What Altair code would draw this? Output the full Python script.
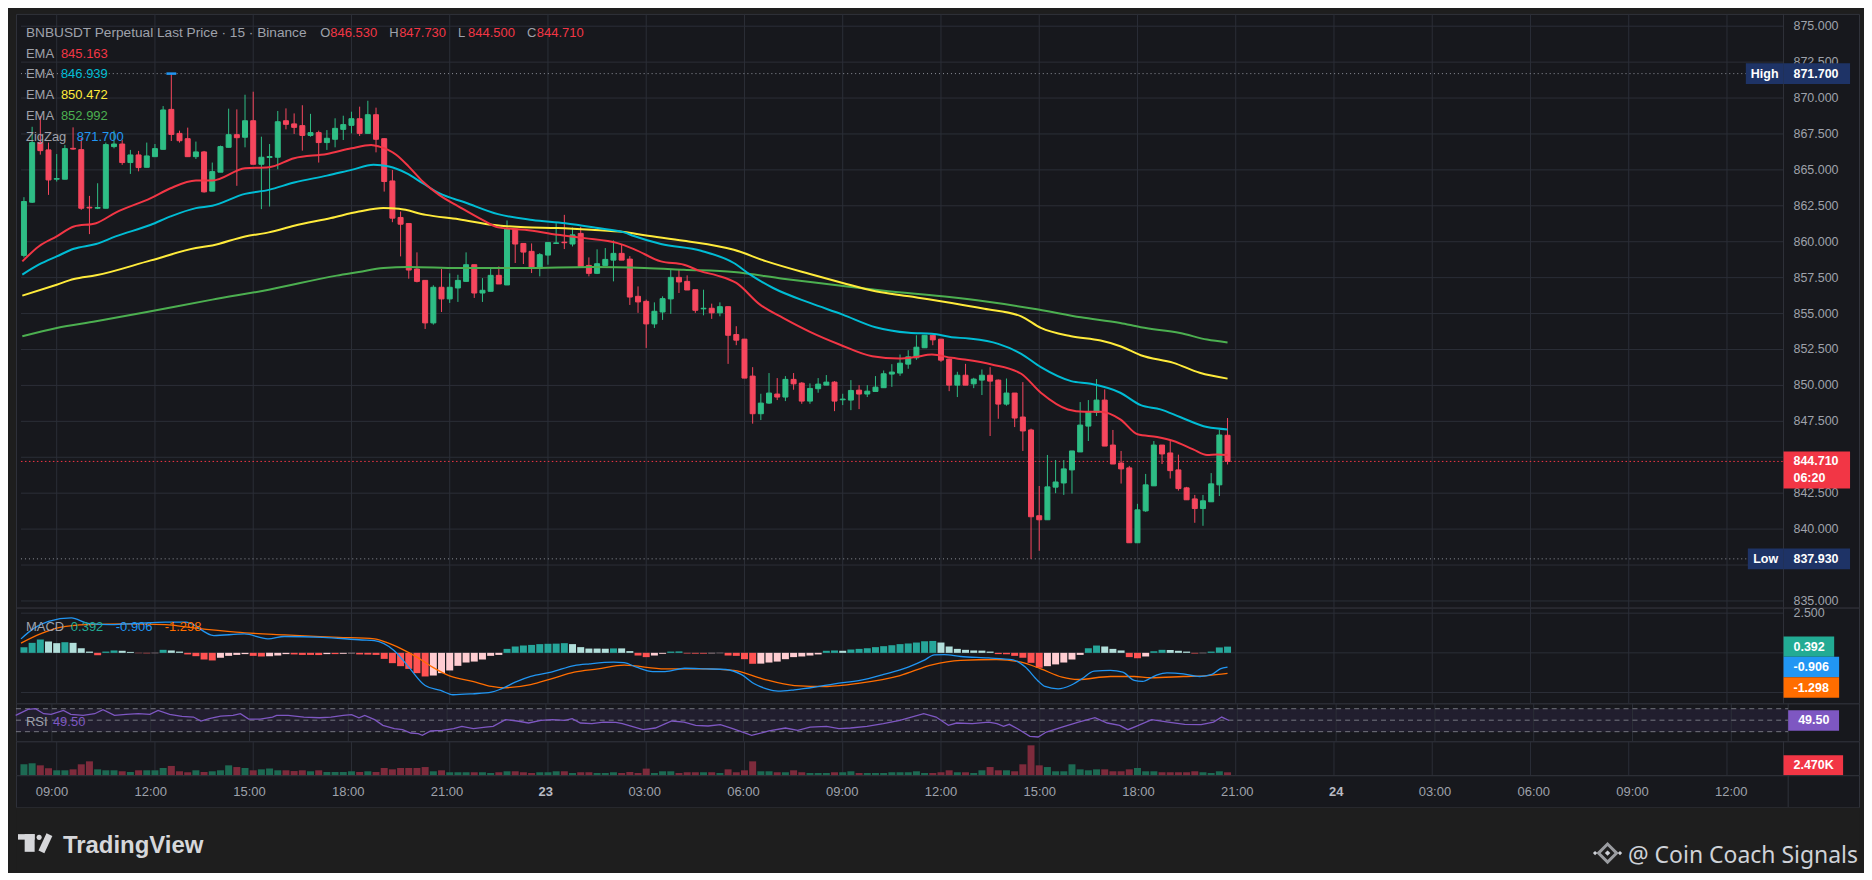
import altair as alt
import pandas as pd

# ============ values (BNBUSDT perp, 15m, 22-23 Aug) ============
candle_open = [859.05, 862.75, 866.90, 866.39, 864.35, 864.35, 866.50, 866.41, 862.40, 862.33,
 862.33, 866.62, 866.80, 865.51, 866.04, 865.18, 865.92, 866.43, 869.21, 867.54,
 867.17, 865.92, 866.25, 863.52, 864.84, 866.57, 867.45, 867.27, 868.42, 865.39,
 865.86, 865.88, 868.42, 868.20, 868.08, 867.40, 867.59, 866.90, 867.13, 867.82,
 868.10, 868.56, 867.54, 868.84, 867.17, 864.23, 861.69, 861.27, 858.10, 857.31,
 854.35, 856.83, 856.02, 856.78, 857.24, 858.40, 856.43, 856.55, 857.66, 856.99,
 860.88, 859.88, 859.33, 858.15, 859.07, 859.88, 859.97, 859.84, 860.58, 858.35,
 857.80, 858.35, 858.72, 859.19, 858.79, 856.20, 855.85, 854.28, 855.11, 856.02,
 857.52, 857.24, 856.66, 855.33, 855.37, 855.05, 855.48, 853.54, 853.22, 850.65,
 848.03, 848.77, 849.40, 849.19, 850.42, 850.16, 848.91, 849.77, 850.02, 850.23,
 849.00, 848.98, 849.67, 849.40, 849.58, 849.84, 850.79, 850.86, 851.48, 851.92,
 852.62, 853.49, 853.22, 851.83, 850.02, 850.71, 850.11, 850.37, 850.71, 850.37,
 848.70, 849.47, 847.80, 846.90, 840.93, 840.65, 842.92, 843.21, 844.12, 845.37,
 847.17, 848.13, 848.98, 845.85, 844.60, 844.26, 839.05, 841.27, 843.01, 845.85,
 845.30, 844.12, 842.87, 842.10, 841.43, 841.90, 843.08, 846.53]
candle_high = [863.10, 868.00, 868.75, 866.90, 866.10, 866.74, 867.96, 867.22, 863.19, 864.07,
 866.90, 867.73, 867.08, 866.39, 866.32, 866.90, 866.80, 869.44, 871.70, 867.73,
 867.94, 866.97, 866.32, 865.51, 866.69, 869.26, 869.21, 870.23, 870.44, 867.31,
 866.80, 869.10, 869.28, 868.93, 869.50, 868.90, 867.73, 867.77, 868.59, 868.77,
 869.05, 869.40, 869.81, 869.33, 867.20, 864.99, 862.10, 861.27, 859.26, 857.31,
 856.97, 858.10, 857.80, 857.70, 859.26, 858.40, 857.47, 858.22, 858.28, 861.48,
 860.88, 859.88, 859.88, 859.21, 859.95, 861.29, 861.87, 860.99, 861.04, 858.91,
 859.47, 859.56, 860.09, 859.79, 859.00, 856.89, 855.97, 855.78, 856.20, 858.05,
 858.10, 857.66, 856.66, 856.66, 855.69, 855.78, 855.48, 854.12, 853.22, 851.27,
 849.42, 850.86, 850.51, 850.65, 850.86, 850.23, 850.14, 850.51, 850.72, 850.30,
 849.42, 850.37, 850.02, 850.02, 850.65, 851.04, 851.48, 852.15, 852.45, 853.49,
 853.49, 853.49, 853.22, 851.87, 850.95, 851.50, 850.53, 851.11, 851.27, 850.41,
 850.48, 849.47, 850.23, 846.99, 843.00, 845.16, 844.81, 844.81, 845.44, 848.84,
 848.98, 850.44, 849.72, 846.90, 845.44, 844.40, 841.76, 843.84, 846.13, 845.85,
 846.13, 845.18, 842.94, 842.38, 842.38, 843.90, 846.90, 847.73]
candle_low = [858.90, 862.70, 866.06, 863.26, 864.19, 864.35, 866.40, 862.22, 860.53, 862.27,
 862.33, 866.50, 865.35, 864.72, 864.90, 865.18, 865.92, 866.43, 867.01, 866.90,
 865.92, 865.76, 863.42, 863.52, 864.84, 866.57, 863.89, 866.57, 865.39, 862.27,
 862.45, 865.04, 867.82, 867.50, 866.34, 867.31, 865.51, 866.39, 866.57, 867.08,
 867.54, 867.36, 867.54, 866.22, 863.49, 861.36, 858.98, 857.43, 857.17, 853.93,
 854.23, 855.11, 855.74, 855.81, 857.24, 856.09, 855.81, 856.55, 857.06, 856.99,
 858.52, 858.45, 857.82, 857.59, 858.40, 859.84, 859.49, 859.67, 858.28, 857.59,
 857.75, 858.35, 857.24, 858.72, 855.60, 855.05, 852.61, 854.00, 854.56, 854.98,
 856.43, 856.64, 855.05, 854.88, 854.63, 854.81, 851.50, 852.80, 850.51, 847.34,
 847.59, 848.72, 848.98, 848.91, 849.70, 848.72, 848.72, 849.49, 850.02, 848.21,
 848.63, 848.28, 848.35, 849.19, 849.58, 849.84, 849.90, 850.67, 851.16, 851.78,
 852.62, 852.80, 851.64, 849.60, 849.19, 850.02, 849.81, 849.33, 846.48, 847.68,
 848.59, 847.10, 845.44, 837.93, 838.49, 840.65, 842.50, 842.38, 842.47, 845.37,
 846.13, 847.87, 845.78, 844.53, 843.17, 839.05, 839.05, 841.20, 843.01, 844.53,
 843.52, 842.68, 842.04, 840.44, 840.23, 841.90, 842.30, 844.50]
candle_close = [862.80, 866.90, 866.34, 864.30, 864.40, 866.48, 866.45, 862.33, 862.35, 862.38,
 866.76, 866.80, 865.51, 866.04, 865.16, 865.97, 866.48, 869.17, 867.47, 867.03,
 865.92, 866.25, 863.47, 864.88, 866.62, 867.45, 867.24, 868.42, 865.39, 865.88,
 865.93, 868.35, 868.17, 867.96, 867.40, 867.59, 866.90, 867.20, 867.89, 868.15,
 868.56, 867.54, 868.84, 867.13, 864.19, 861.64, 861.22, 858.03, 857.24, 854.35,
 856.83, 856.02, 856.83, 857.31, 858.40, 856.43, 856.62, 857.66, 857.06, 860.88,
 859.84, 859.28, 858.15, 859.10, 859.95, 859.92, 859.93, 860.48, 858.28, 857.80,
 858.47, 858.77, 859.19, 858.72, 856.15, 855.81, 854.28, 855.16, 856.04, 857.52,
 857.20, 856.64, 855.23, 855.37, 855.05, 855.48, 853.49, 853.15, 850.51, 848.03,
 848.77, 849.47, 849.19, 850.42, 850.11, 848.91, 849.79, 850.09, 850.23, 848.91,
 849.05, 849.65, 849.40, 849.60, 849.88, 850.81, 850.93, 851.55, 851.99, 852.66,
 853.49, 853.17, 851.76, 850.02, 850.71, 850.02, 850.44, 850.71, 850.30, 848.70,
 849.47, 847.73, 846.83, 840.86, 840.65, 842.94, 843.28, 844.19, 845.44, 847.24,
 848.15, 848.98, 845.78, 844.53, 844.19, 839.05, 841.34, 843.08, 845.85, 845.23,
 844.07, 842.82, 842.04, 841.43, 841.97, 843.15, 846.55, 844.71]
volume_k = [9.05, 9.9, 8.2, 5.8, 4.1, 4.1, 4.9, 9.05, 11.5, 4.9,
 4.1, 4.1, 3.3, 2.7, 4.1, 4.1, 4.1, 6.0, 7.7, 3.3,
 2.5, 4.1, 2.7, 3.3, 4.1, 8.2, 6.8, 6.0, 4.1, 4.9,
 5.5, 4.1, 4.1, 3.5, 4.1, 3.3, 4.1, 2.7, 2.7, 2.7,
 3.3, 2.7, 3.3, 2.7, 6.0, 4.9, 6.0, 6.0, 6.0, 6.8,
 3.3, 4.1, 2.5, 2.5, 2.5, 2.5, 2.5, 1.9, 2.5, 3.3,
 3.3, 2.5, 1.9, 2.5, 2.5, 3.3, 3.3, 1.9, 2.5, 2.5,
 1.9, 1.9, 2.5, 1.9, 2.7, 1.9, 5.5, 1.9, 3.3, 3.3,
 1.9, 2.5, 2.5, 2.5, 2.5, 1.9, 4.9, 2.5, 4.1, 11.5,
 3.3, 3.3, 2.5, 2.5, 4.1, 2.5, 1.9, 1.9, 1.9, 2.5,
 2.5, 3.3, 1.9, 1.9, 1.9, 1.9, 2.5, 2.5, 2.5, 3.3,
 1.9, 1.9, 2.5, 4.1, 2.5, 2.5, 1.9, 4.1, 6.8, 4.1,
 4.1, 3.3, 9.05, 24.7, 8.2, 6.8, 3.3, 3.3, 9.05, 4.9,
 4.1, 4.9, 4.9, 3.3, 3.3, 4.9, 6.0, 3.3, 3.3, 2.5,
 2.5, 2.5, 2.5, 3.3, 2.5, 1.9, 3.3, 2.47]
macd_hist = [0.36, 0.63, 0.84, 0.71, 0.61, 0.67, 0.63, 0.29, 0.08, -0.15,
 0.08, 0.15, 0.13, 0.06, -0.02, -0.03, -0.02, 0.19, 0.15, 0.08,
 -0.10, -0.21, -0.42, -0.48, -0.31, -0.19, -0.13, -0.08, -0.19, -0.23,
 -0.21, -0.17, -0.08, -0.10, -0.13, -0.13, -0.14, -0.08, -0.08, -0.06,
 -0.03, -0.10, -0.11, -0.13, -0.38, -0.65, -0.84, -1.01, -1.28, -1.49,
 -1.43, -1.28, -1.11, -0.82, -0.61, -0.55, -0.42, -0.19, -0.13, 0.25,
 0.40, 0.46, 0.50, 0.55, 0.57, 0.58, 0.61, 0.55, 0.36, 0.27,
 0.27, 0.26, 0.28, 0.28, 0.11, -0.17, -0.27, -0.17, -0.06, 0.08,
 0.09, -0.04, -0.05, -0.05, -0.03, -0.02, -0.17, -0.19, -0.40, -0.69,
 -0.68, -0.61, -0.55, -0.40, -0.27, -0.23, -0.17, -0.10, 0.13, 0.15,
 0.13, 0.21, 0.25, 0.29, 0.36, 0.42, 0.48, 0.55, 0.59, 0.65,
 0.73, 0.75, 0.65, 0.40, 0.25, 0.19, 0.15, 0.14, 0.08, -0.08,
 -0.09, -0.19, -0.31, -0.63, -0.94, -0.84, -0.73, -0.61, -0.42, -0.13,
 0.29, 0.46, 0.40, 0.25, 0.15, -0.27, -0.34, -0.23, 0.10, 0.19,
 0.18, 0.13, 0.08, -0.04, -0.02, 0.08, 0.34, 0.392]

# EMA lines, read at sample positions (x in candle-index units)
ema_red_x = [-0.2, 1.8, 4.0, 6.1, 8.8, 11.2, 15.5, 17.9, 21.0, 23.0, 27.0, 29.9, 33.0, 37.0, 40.0, 42.4,
 43.4, 45.5, 47.0, 48.7, 50.7, 53.1, 56.0, 57.9, 61.2, 65.2, 68.5, 72.5, 74.5, 77.8, 80.6, 82.7, 84.6,
 87.0, 89.9, 92.7, 96.0, 99.6, 103.6, 106.9, 108.8, 110.9, 113.3, 114.9, 118.2, 121.8, 124.2, 127.5,
 129.5, 131.5, 133.9, 136.0, 138.4, 140.4, 142.8, 144.5, 145.7, 147.0]
ema_red_v = [858.63, 859.67, 860.37, 861.06, 861.29, 862.03, 863.03, 863.72, 864.26, 864.26, 865.11, 865.18,
 865.81, 866.11, 866.50, 866.73, 866.62, 866.04, 865.23, 864.19, 863.26, 862.45, 861.52, 861.00, 860.83,
 860.48, 860.25, 859.90, 859.49, 858.63, 858.40, 857.94, 857.66, 857.13, 855.62, 854.70, 853.73, 852.85,
 852.03, 851.87, 851.97, 852.15, 851.92, 851.80, 851.46, 850.81, 849.49, 848.33, 848.17, 848.17, 847.64,
 846.60, 846.41, 846.13, 845.55, 845.16, 845.20, 845.163]
ema_cyan_x = [-0.2, 1.8, 4.0, 6.1, 8.8, 11.2, 15.5, 17.9, 21.0, 23.0, 27.0, 29.9, 33.0, 37.0, 40.0, 42.7,
 44.6, 46.7, 48.7, 50.7, 53.9, 57.9, 62.1, 66.1, 70.1, 73.3, 74.5, 77.8, 82.7, 86.7, 88.7, 91.5, 96.0,
 100.0, 104.0, 108.1, 110.9, 113.3, 115.4, 119.0, 121.8, 124.2, 127.9, 130.3, 133.9, 136.4, 138.8,
 141.2, 144.5, 147.0]
ema_cyan_v = [857.71, 858.40, 858.98, 859.51, 859.84, 860.37, 861.18, 861.76, 862.34, 862.50, 863.33,
 863.61, 864.12, 864.60, 865.00, 865.35, 865.23, 864.77, 864.07, 863.38, 862.73, 861.92, 861.52, 861.29,
 860.95, 860.65, 860.40, 859.84, 859.37, 858.52, 857.71, 856.78, 855.74, 854.93, 854.05, 853.66, 853.59,
 853.36, 853.26, 852.89, 852.20, 851.27, 850.30, 850.11, 849.49, 848.63, 848.33, 847.80, 847.10, 846.939]
ema_yellow_x = [-0.2, 4.0, 6.1, 8.8, 15.5, 21.0, 23.0, 27.0, 29.9, 33.0, 37.5, 40.9, 43.9, 45.8, 49.1,
 53.1, 57.2, 61.2, 65.2, 69.3, 73.3, 75.8, 80.6, 86.7, 90.7, 96.0, 100.0, 104.0, 108.1, 113.3, 117.3,
 121.8, 124.2, 127.9, 131.5, 133.9, 136.4, 140.4, 143.6, 147.0]
ema_yellow_v = [856.25, 857.01, 857.40, 857.66, 858.70, 859.56, 859.74, 860.37, 860.65, 861.11, 861.65,
 862.10, 862.34, 862.29, 861.87, 861.57, 861.18, 861.00, 860.95, 860.83, 860.67, 860.45, 860.07, 859.44,
 858.63, 857.75, 857.13, 856.55, 856.20, 855.74, 855.34, 854.81, 854.00, 853.42, 853.12, 852.73, 852.10,
 851.57, 850.88, 850.472]
ema_green_x = [-0.2, 4.0, 8.8, 15.5, 23.0, 29.9, 38.2, 40.9, 43.9, 47.0, 53.1, 61.2, 69.3, 75.8, 80.6,
 86.7, 92.7, 98.8, 104.8, 113.3, 117.3, 123.9, 129.1, 133.9, 136.4, 141.2, 144.5, 147.0]
ema_green_v = [853.42, 854.00, 854.46, 855.16, 855.97, 856.66, 857.64, 857.89, 858.17, 858.24, 858.17,
 858.17, 858.24, 858.17, 858.05, 857.89, 857.43, 857.01, 856.60, 856.13, 855.85, 855.28, 854.74, 854.35,
 854.05, 853.65, 853.19, 852.992]

macd_x = [-0.36, 1.1, 3.0, 5.8, 7.8, 10.7, 13.9, 17.3, 19.8, 23.2, 26.9, 29.8, 31.8, 36.5, 41.3, 42.8,
 45.2, 47.0, 49.0, 50.9, 52.4, 54.8, 57.1, 58.3, 60.0, 61.9, 64.4, 67.2, 69.1, 72.0, 73.3, 74.8, 76.8,
 78.3, 80.7, 83.3, 85.7, 87.6, 89.2, 90.7, 92.1, 94.1, 96.6, 99.0, 102.1, 105.0, 108.0, 109.9, 111.2,
 112.4, 114.4, 117.8, 120.8, 122.3, 123.8, 124.7, 126.3, 127.8, 129.2, 130.7, 132.7, 134.2, 135.6,
 136.6, 138.2, 139.6, 141.6, 143.6, 145.1, 146.1, 147.0]
macd_v = [0.88, 1.51, 1.99, 2.20, 1.86, 1.78, 1.86, 1.93, 1.93, 1.09, 1.19, 0.88, 1.03, 0.98, 0.81, 0.77,
 0.15, -0.90, -2.06, -2.37, -2.64, -2.58, -2.48, -2.27, -1.85, -1.49, -1.22, -0.80, -0.69, -0.59, -0.62,
 -0.90, -1.18, -1.18, -0.97, -1.01, -1.05, -1.36, -1.95, -2.27, -2.41, -2.33, -2.16, -1.95, -1.74,
 -1.36, -0.90, -0.48, -0.13, -0.11, -0.23, -0.32, -0.44, -0.90, -1.74, -2.12, -2.27, -2.06, -1.64,
 -1.15, -1.11, -1.22, -1.74, -1.80, -1.43, -1.26, -1.32, -1.49, -1.36, -1.01, -0.906]
signal_x = [-0.36, 2.0, 4.4, 7.8, 12.6, 17.3, 20.7, 25.9, 31.8, 38.4, 42.8, 44.2, 46.1, 48.0, 49.9, 51.9,
 54.8, 57.1, 58.5, 61.9, 64.4, 67.2, 70.1, 73.3, 78.3, 83.3, 86.7, 90.2, 94.1, 98.1, 102.1, 107.0,
 110.9, 114.4, 118.8, 121.8, 124.2, 126.8, 128.7, 132.7, 135.6, 137.6, 141.6, 144.6, 147.0]
signal_v = [0.61, 1.19, 1.61, 1.78, 1.82, 1.78, 1.57, 1.30, 1.13, 0.98, 0.88, 0.67, 0.25, -0.27, -0.90,
 -1.43, -1.80, -2.12, -2.20, -2.00, -1.64, -1.22, -1.01, -0.78, -1.01, -1.01, -1.11, -1.64, -2.06,
 -2.12, -1.91, -1.43, -0.76, -0.48, -0.42, -0.59, -1.01, -1.53, -1.68, -1.49, -1.49, -1.57, -1.49,
 -1.43, -1.298]
rsi_x = [-0.4, 1.1, 2.0, 3.0, 3.9, 5.4, 6.3, 7.8, 9.2, 10.2, 11.6, 13.0, 14.5, 15.9, 16.9, 18.3, 19.8,
 21.2, 22.1, 23.1, 24.5, 26.0, 26.9, 27.9, 29.3, 30.8, 31.3, 32.7, 34.6, 36.5, 37.9, 39.4, 40.4, 41.3,
 42.0, 43.2, 44.2, 45.6, 46.6, 47.6, 48.5, 49.0, 50.0, 51.4, 52.8, 53.8, 55.2, 56.7, 57.6, 59.1, 60.5,
 61.9, 63.4, 64.8, 66.3, 67.2, 68.2, 69.6, 71.0, 72.5, 73.3, 75.8, 77.3, 79.3, 80.8, 82.2, 83.7, 85.2,
 86.7, 89.0, 90.2, 91.1, 93.1, 94.6, 96.1, 98.1, 99.6, 101.0, 103.0, 105.0, 107.0, 109.9, 111.4, 112.9,
 113.9, 115.8, 117.8, 118.8, 119.6, 120.3, 121.3, 122.8, 123.8, 124.8, 126.7, 128.7, 130.7, 132.2,
 133.7, 134.7, 135.7, 137.6, 139.6, 141.6, 143.6, 145.1, 146.1, 147.0]
rsi_v = [58.4, 68.8, 70.0, 61.3, 60.1, 67.1, 60.1, 58.4, 61.3, 68.3, 58.4, 60.1, 61.3, 60.1, 67.1, 60.1,
 56.7, 55.5, 48.6, 52.6, 57.2, 58.4, 61.3, 52.0, 52.0, 55.5, 58.4, 58.4, 55.5, 54.3, 55.5, 58.4, 59.6,
 54.3, 58.4, 50.9, 41.0, 35.2, 33.5, 27.7, 26.5, 23.6, 31.2, 32.3, 35.2, 39.3, 35.2, 38.1, 39.3, 50.9,
 48.6, 45.1, 49.7, 50.9, 49.7, 52.6, 45.1, 43.9, 46.8, 46.2, 43.9, 33.5, 36.4, 48.6, 46.8, 41.0, 39.9,
 42.2, 35.2, 23.6, 27.7, 31.2, 36.4, 32.3, 38.1, 39.3, 35.2, 36.4, 39.3, 43.9, 49.7, 61.3, 55.5, 41.0,
 45.1, 43.9, 46.8, 43.9, 39.3, 42.8, 35.2, 21.9, 20.7, 29.4, 38.1, 46.8, 54.3, 45.1, 41.0, 33.5, 39.3,
 50.9, 46.8, 42.8, 42.2, 46.8, 55.5, 49.5]

time_tick_idx = [4, 16, 28, 40, 52, 64, 76, 88, 100, 112, 124, 136, 148, 160, 172, 184, 196, 208]
time_tick_lbl = ["09:00", "12:00", "15:00", "18:00", "21:00", "23", "03:00", "06:00", "09:00",
                 "12:00", "15:00", "18:00", "21:00", "24", "03:00", "06:00", "09:00", "12:00"]
price_ticks = [835.0, 837.5, 840.0, 842.5, 845.0, 847.5, 850.0, 852.5, 855.0, 857.5, 860.0,
               862.5, 865.0, 867.5, 870.0, 872.5, 875.0]
macd_ticks = [-2.5, 0.0, 2.5]
rsi_levels = [30, 50, 70]

ohlc_last = [("O", "846.530"), ("H", "847.730"), ("L", "844.500"), ("C", "844.710")]
ema_last = ["845.163", "846.939", "850.472", "852.992"]
zigzag_last = "871.700"
macd_last = [0.392, -0.906, -1.298]
rsi_last = 49.50
vol_last = "2.470K"
countdown = "06:20"

N = len(candle_close)
for arr in (candle_open, candle_high, candle_low, volume_k, macd_hist):
    assert len(arr) == N
for a, b in ((ema_red_x, ema_red_v), (ema_cyan_x, ema_cyan_v), (ema_yellow_x, ema_yellow_v),
             (ema_green_x, ema_green_v), (macd_x, macd_v), (signal_x, signal_v), (rsi_x, rsi_v)):
    assert len(a) == len(b), (len(a), len(b))

# ============ style ============
FONT = "Liberation Sans"
OUTER = "#1e1e1e"
BG = "#17181d"
GRID = "#2b2e37"
BORDER = "#30323a"
TXT = "#9fa2ab"
UP, DN = "#2ebd85", "#f6465d"
UPV, DNV = "#1d6a53", "#7e2b3c"
C_RED, C_CYAN, C_YEL, C_GRN, C_BLUE = "#f23645", "#00bcd4", "#ffeb3b", "#4caf50", "#2196f3"
C_ORNG, C_TEAL, C_PURP, C_NAVY = "#ff6d00", "#22ab94", "#7e57c2", "#1e3366"

CPX = 8.25  # pixels per 15-minute candle


def xi(px):
    return (px - 15.0) / CPX


W = 1847
X0, X1 = xi(12), xi(1859)
XAX = xi(1788)
XLBL = xi(1798)
XS = alt.Scale(domain=[X0, X1], nice=False, zero=False)


def xenc(field="i"):
    return alt.X(f"{field}:Q", scale=XS, axis=None)


def yenc(field, ys):
    return alt.Y(f"{field}:Q", scale=ys, axis=None)


def vgrid():
    return alt.Chart(pd.DataFrame({"i": time_tick_idx})).mark_rule(color=GRID, strokeWidth=1).encode(x=xenc())


def separator():
    return alt.Chart(pd.DataFrame({"i": [XAX]})).mark_rule(color=BORDER, strokeWidth=1).encode(x=xenc())


def hrules(values, ys, x_end, color=GRID, dash=None, opacity=1.0, width=1):
    kw = dict(color=color, strokeWidth=width, opacity=opacity)
    if dash:
        kw["strokeDash"] = dash
    xb = list(x_end) if isinstance(x_end, list) else [x_end] * len(values)
    df = pd.DataFrame({"v": values, "xa": [X0] * len(values), "xb": xb})
    return alt.Chart(df).mark_rule(**kw).encode(y=yenc("v", ys), x=xenc("xa"), x2="xb:Q")


def axis_labels(values, ys, fmt, hidden_by=()):
    # a scale label is not drawn where a price-scale badge sits right on top of it
    keep = [v for v in values if all(abs(v - c) * ppu > half - 2 for c, ppu, half in hidden_by)]
    df = pd.DataFrame({"v": keep, "t": [fmt.format(v) for v in keep], "x": [XLBL] * len(keep)})
    return alt.Chart(df).mark_text(align="left", baseline="middle", font=FONT, fontSize=12.5, color=TXT).encode(
        x=xenc("x"), y=yenc("v", ys), text="t:N")


def text_at(s, px, py, color, size=13, weight="normal", align="left", font=FONT, baseline="middle"):
    return alt.Chart(pd.DataFrame({"t": [s]})).mark_text(
        align=align, baseline=baseline, font=font, fontSize=size, fontWeight=weight, color=color
    ).encode(x=alt.value(px), y=alt.value(py), text="t:N")


def box(xa, xb, ya, yb, ys, fill, opacity=1.0):
    df = pd.DataFrame({"xa": [xa], "xb": [xb], "ya": [ya], "yb": [yb]})
    return alt.Chart(df).mark_rect(color=fill, opacity=opacity).encode(
        x=xenc("xa"), x2="xb:Q", y=yenc("ya", ys), y2="yb:Q")


def box_text(s, xv, yv, ys, color="#ffffff", align="left", weight="bold", size=12.5):
    df = pd.DataFrame({"x": [xv], "y": [yv], "t": [s]})
    return alt.Chart(df).mark_text(align=align, baseline="middle", font=FONT, fontSize=size,
                                   fontWeight=weight, color=color).encode(
        x=xenc("x"), y=yenc("y", ys), text="t:N")


def line(xv, yv, ys, color, width, interp="monotone"):
    df = pd.DataFrame({"i": xv, "v": yv})
    return alt.Chart(df).mark_line(color=color, strokeWidth=width, interpolate=interp).encode(
        x=xenc(), y=yenc("v", ys))


# ============ price pane ============
P_H = 595
P_PPU = 14.4
P_TOP = 875.0 + (24.3 - 12) / P_PPU
P_BOT = P_TOP - P_H / P_PPU
YP = alt.Scale(domain=[P_BOT, P_TOP], nice=False, zero=False)

cd = pd.DataFrame({"i": range(N), "o": candle_open, "h": candle_high, "l": candle_low, "c": candle_close})
cd["up"] = cd.c >= cd.o


def candle_layers(df, color):
    w = alt.Chart(df).mark_rule(strokeWidth=1, color=color).encode(x=xenc(), y=yenc("l", YP), y2="h:Q")
    b = alt.Chart(df).mark_bar(size=5, strokeWidth=1, color=color, stroke=color).encode(
        x=xenc(), y=yenc("o", YP), y2="c:Q")
    return [w, b]


high_v = max(candle_high)
low_v = min(candle_low)
hi_i = candle_high.index(high_v)
last_c = candle_close[-1]

zz = alt.Chart(pd.DataFrame({"xa": [hi_i - 0.6], "xb": [hi_i + 0.6], "v": [high_v]})).mark_rule(
    color=C_BLUE, strokeWidth=2.5).encode(x=xenc("xa"), x2="xb:Q", y=yenc("v", YP))

HH_PX = 10.5
HH = HH_PX / P_PPU
price_layers = [
    hrules(price_ticks, YP, XAX), vgrid(), separator(),
    axis_labels(price_ticks, YP, "{:.3f}", hidden_by=[(low_v, P_PPU, HH_PX)]),
    hrules([high_v, low_v], YP, [xi(1750), xi(1752)], color="#8f929b", dash=[1, 3]),
    hrules([last_c], YP, XAX, color=C_RED, dash=[1.5, 2.5]),
]
price_layers += candle_layers(cd[cd.up], UP) + candle_layers(cd[~cd.up], DN)
price_layers += [
    line(ema_green_x, ema_green_v, YP, C_GRN, 2),
    line(ema_yellow_x, ema_yellow_v, YP, C_YEL, 2),
    line(ema_cyan_x, ema_cyan_v, YP, C_CYAN, 2),
    line(ema_red_x, ema_red_v, YP, C_RED, 2),
    zz,
]
# legend (top-left)
ROW0, ROWD = 18.7, 21.0
price_layers.append(text_at("BNBUSDT Perpetual Last Price · 15 · Binance", 10, ROW0, TXT, size=13.7))
for k, (lab, val) in enumerate(ohlc_last):
    x0 = 305 + 69 * k
    price_layers.append(text_at(lab, x0, ROW0, TXT))
    price_layers.append(text_at(val, x0 + 10, ROW0, C_RED))
for k, (val, col) in enumerate(zip(ema_last, [C_RED, C_CYAN, C_YEL, C_GRN])):
    yy = ROW0 + ROWD * (k + 1)
    price_layers.append(text_at("EMA", 10, yy, TXT))
    price_layers.append(text_at(val, 45, yy, col))
price_layers.append(text_at("ZigZag", 10, ROW0 + ROWD * 5, TXT))
price_layers.append(text_at(zigzag_last, 61, ROW0 + ROWD * 5, C_BLUE))
# price-scale badges
price_layers += [
    box(xi(1750), XAX, high_v - HH, high_v + HH, YP, C_NAVY),
    box_text("High", (xi(1750) + XAX) / 2, high_v, YP, align="center"),
    box(XAX, xi(1855), high_v - HH, high_v + HH, YP, C_NAVY),
    box_text(f"{high_v:.3f}", XLBL, high_v, YP),
    box(XAX, xi(1855), last_c - 27.2 / P_PPU, last_c + 9.9 / P_PPU, YP, C_RED),
    box_text(f"{last_c:.3f}", XLBL, last_c, YP),
    box_text(countdown, XLBL, last_c - 17.0 / P_PPU, YP),
    box(xi(1752), XAX, low_v - HH, low_v + HH, YP, C_NAVY),
    box_text("Low", (xi(1752) + XAX) / 2, low_v, YP, align="center"),
    box(XAX, xi(1855), low_v - HH, low_v + HH, YP, C_NAVY),
    box_text(f"{low_v:.3f}", XLBL, low_v, YP),
]
price = alt.layer(*price_layers).properties(width=W, height=P_H)

# ============ MACD pane ============
M_H = 96
M_PPU = 15.9
M_ZERO = 45.3
YM = alt.Scale(domain=[-(M_H - M_ZERO) / M_PPU, M_ZERO / M_PPU], nice=False, zero=False)
hgrp = []
for k, v in enumerate(macd_hist):
    prev = macd_hist[k - 1] if k > 0 else 0.0
    if v >= 0:
        hgrp.append("up_rise" if v > prev else "up_fall")
    else:
        hgrp.append("dn_rise" if v > prev else "dn_fall")
hd = pd.DataFrame({"i": range(N), "h": macd_hist, "z": [0.0] * N, "g": hgrp})
HIST_COL = {"up_rise": "#26a69a", "up_fall": "#b2dfdb", "dn_rise": "#ffcdd2", "dn_fall": "#ff5252"}
hist_layers = [
    alt.Chart(hd[hd.g == g]).mark_bar(size=7, color=c).encode(x=xenc(), y=yenc("h", YM), y2="z:Q")
    for g, c in HIST_COL.items()
]
MB_PX = 10.25
MB = MB_PX / M_PPU
mc = macd_last[0]
m_centers = [mc, mc - 20.5 / M_PPU, mc - 41 / M_PPU]
macd_layers = [hrules(macd_ticks, YM, XAX), vgrid(), separator(),
               axis_labels(macd_ticks, YM, "{:.3f}", hidden_by=[(c, M_PPU, MB_PX) for c in m_centers])]
macd_layers += hist_layers
macd_layers += [
    line(signal_x, signal_v, YM, C_ORNG, 1.3),
    line(macd_x, macd_v, YM, C_BLUE, 1.3),
    text_at("MACD", 10, 19, TXT),
    text_at(f"{macd_last[0]:.3f}", 55, 19, C_TEAL),
    text_at(f"{macd_last[1]:.3f}", 100, 19, C_BLUE),
    text_at(f"{macd_last[2]:.3f}", 149, 19, C_ORNG),
]
for cval, val, col, xend in zip(m_centers, macd_last, [C_TEAL, C_BLUE, C_ORNG], [1839, 1844, 1844]):
    macd_layers += [box(XAX, xi(xend), cval - MB, cval + MB, YM, col),
                    box_text(f"{val:.3f}", XLBL, cval, YM)]
macd = alt.layer(*macd_layers).properties(width=W, height=M_H)

# ============ RSI pane ============
R_H = 38
R_PPU = 0.575
R_TOP = 70 + 5.3 / R_PPU
YR = alt.Scale(domain=[R_TOP - R_H / R_PPU, R_TOP], nice=False, zero=False)
RB = 10.3 / R_PPU
rsi_layers = [
    box(X0, XAX, rsi_levels[0], rsi_levels[-1], YR, C_PURP, opacity=0.1),
    vgrid(), separator(),
    hrules(rsi_levels, YR, XAX, color="#8a8d96", dash=[5, 4], opacity=0.8),
    line(rsi_x, rsi_v, YR, C_PURP, 1.3, interp="linear"),
    text_at("RSI", 10, 19, TXT),
    text_at(f"{rsi_last:.2f}", 37, 19, C_PURP),
    box(XAX, xi(1839), rsi_last - RB, rsi_last + RB, YR, C_PURP),
    box_text(f"{rsi_last:.2f}", XLBL, rsi_last, YR),
]
rsi = alt.layer(*rsi_layers).properties(width=W, height=R_H)

# ============ volume pane ============
V_H = 34
V_PPU = 1 / 0.823
YV = alt.Scale(domain=[0, V_H / V_PPU], nice=False, zero=False)
vd = pd.DataFrame({"i": range(N), "v": volume_k, "z": [0.0] * N,
                   "up": [c >= o for o, c in zip(candle_open, candle_close)]})
vol_layers = [
    vgrid(), separator(),
    alt.Chart(vd[vd.up]).mark_bar(size=7, color=UPV).encode(x=xenc(), y=yenc("v", YV), y2="z:Q"),
    alt.Chart(vd[~vd.up]).mark_bar(size=7, color=DNV).encode(x=xenc(), y=yenc("v", YV), y2="z:Q"),
    box(XAX, xi(1848), 0, 20 / V_PPU, YV, C_RED),
    box_text(vol_last, XLBL, 10 / V_PPU, YV),
]
vol = alt.layer(*vol_layers).properties(width=W, height=V_H)

# ============ time scale strip ============
T_H = 32
td = pd.DataFrame({"i": time_tick_idx, "t": time_tick_lbl})
td["day"] = [len(t) <= 2 for t in time_tick_lbl]
t_norm = alt.Chart(td[~td.day]).mark_text(font=FONT, fontSize=13, color=TXT, baseline="middle").encode(
    x=xenc(), y=alt.value(17), text="t:N")
t_bold = alt.Chart(td[td.day]).mark_text(font=FONT, fontSize=13, fontWeight="bold", color="#b8bbc4",
                                         baseline="middle").encode(x=xenc(), y=alt.value(17), text="t:N")
strip = alt.layer(separator(), t_norm, t_bold).properties(width=W, height=T_H)

# ============ footer (watermarks) ============
F_H = 64
LOGO = "#d6d7da"
one = pd.DataFrame({"k": [0]})
f_layers = [
    alt.Chart(one).mark_rect(color=LOGO).encode(x=alt.value(2), x2=alt.value(18.7), y=alt.value(27), y2=alt.value(32.5)),
    alt.Chart(one).mark_rect(color=LOGO).encode(x=alt.value(8.7), x2=alt.value(18.7), y=alt.value(27), y2=alt.value(44.7)),
    alt.Chart(one).mark_circle(color=LOGO, opacity=1, size=26).encode(x=alt.value(23.2), y=alt.value(30.2)),
    alt.Chart(one).mark_rule(color=LOGO, strokeWidth=6.5).encode(x=alt.value(33.5), x2=alt.value(25.5), y=alt.value(27.5), y2=alt.value(44.7)),
    text_at("TradingView", 47, 45.7, LOGO, size=24, weight="bold", baseline="alphabetic"),
    alt.Chart(one).mark_point(shape="diamond", filled=False, color="#cfd2d8", strokeWidth=3, size=330).encode(x=alt.value(1595), y=alt.value(46)),
    alt.Chart(one).mark_point(shape="diamond", filled=True, color="#cfd2d8", opacity=1, size=30).encode(x=alt.value(1595), y=alt.value(46)),
    alt.Chart(one).mark_point(shape="diamond", filled=True, color="#cfd2d8", opacity=1, size=18).encode(x=alt.value(1582.5), y=alt.value(46)),
    alt.Chart(one).mark_point(shape="diamond", filled=True, color="#cfd2d8", opacity=1, size=18).encode(x=alt.value(1607.5), y=alt.value(46)),
    text_at("@ Coin Coach Signals", 1846, 55.5, "#cfd2d8", size=23, font="Noto Sans", align="right",
            baseline="alphabetic"),
]
footer = alt.layer(*f_layers).properties(width=W, height=F_H,
                                         view=alt.ViewBackground(fill=OUTER, stroke="transparent"))

chart = alt.vconcat(price, macd, rsi, vol, strip, footer, spacing=0, bounds="flush").properties(
    padding={"left": 4, "top": 4, "right": 4, "bottom": 0}
).configure(background=OUTER, font=FONT).configure_view(fill=BG, stroke=BORDER, strokeWidth=1)

chart.save("out.html", embed_options={"renderer": "svg", "actions": False})
